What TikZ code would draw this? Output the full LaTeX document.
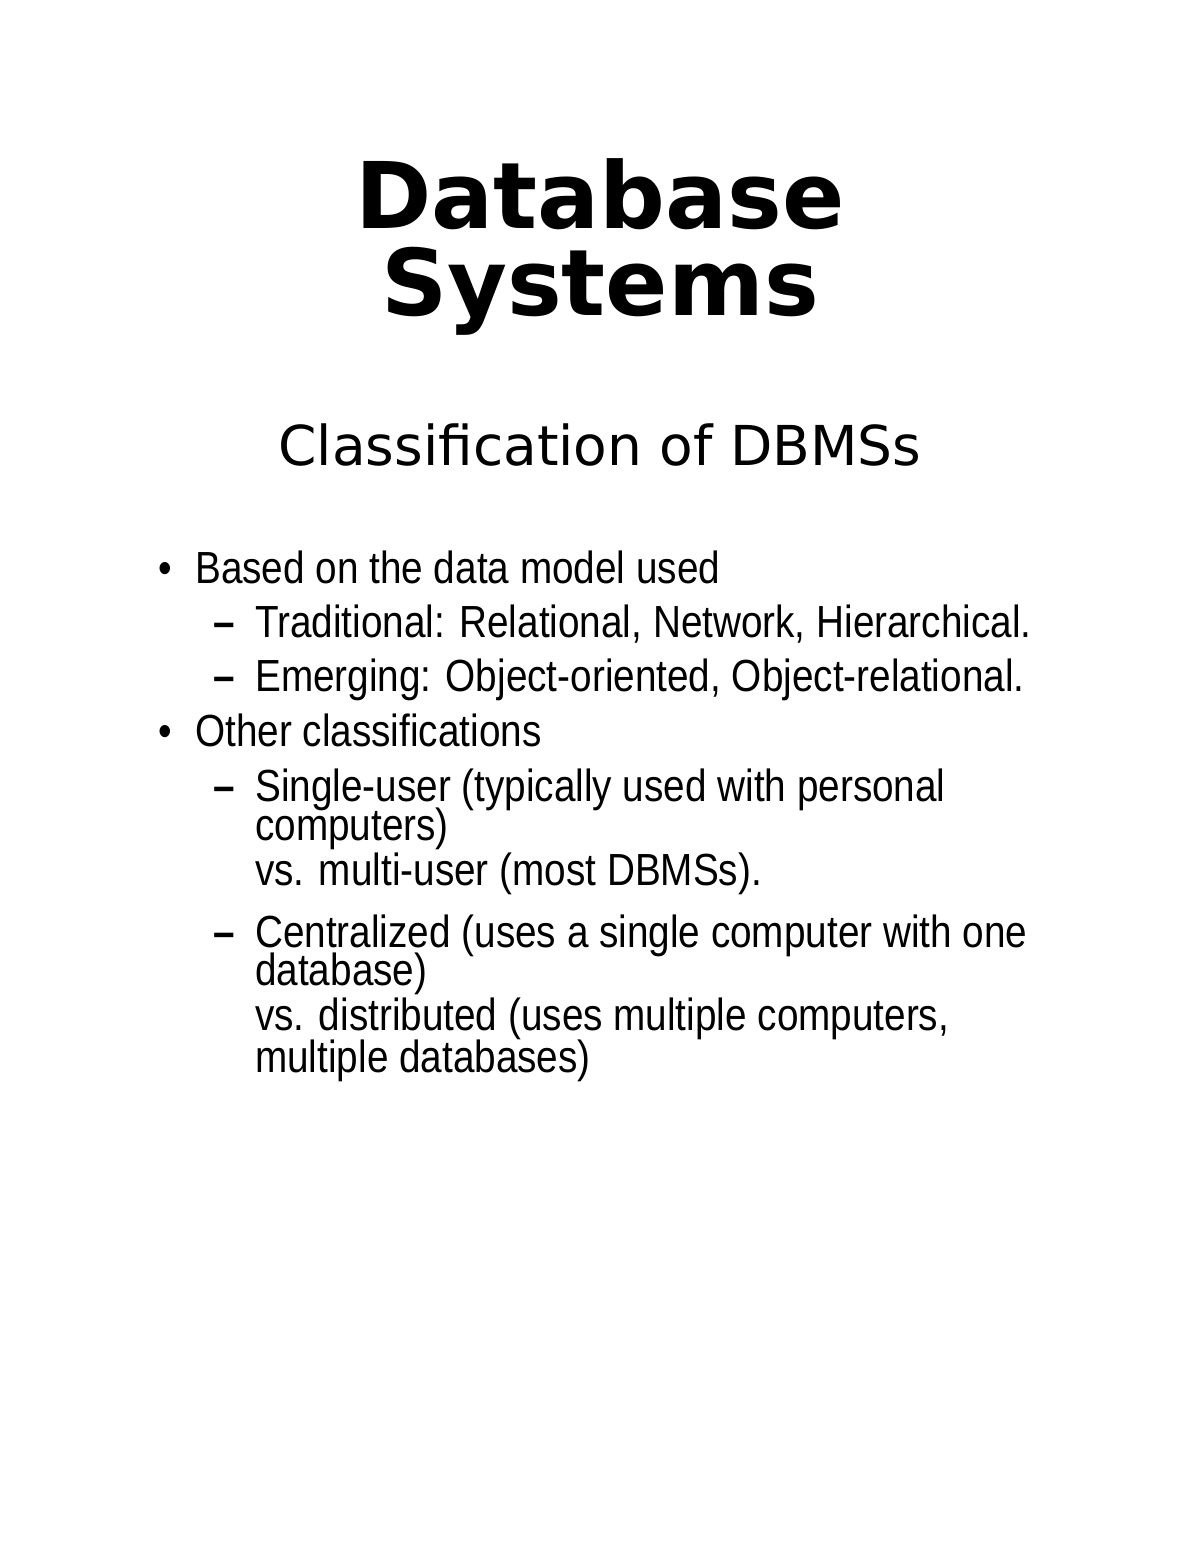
\documentclass[tikz,border=0pt]{standalone}
\usepackage{fontspec}
\setmainfont{Liberation Sans}[FakeStretch=0.86]
\newfontfamily\ttl{DejaVu Sans}
\begin{document}
\begin{tikzpicture}[x=1pt,y=-1pt,
  body/.style={anchor=base west,inner sep=0pt,font=\fontsize{45}{54}\selectfont},
  bul/.style={anchor=base west,inner sep=0pt,font=\fontsize{45}{54}\selectfont}]
\useasboundingbox[fill=white] (0,0) rectangle (1200,1553);
\node[anchor=base,inner sep=0pt,font=\ttl\bfseries\fontsize{92}{100}\selectfont] (t1) at (600,228) {Database};
\node[anchor=base,inner sep=0pt,font=\ttl\bfseries\fontsize{92}{100}\selectfont] (t2) at (600,315) {Systems};
\node[anchor=base,inner sep=0pt,font=\ttl\fontsize{55}{60}\selectfont] (st) at (600,465) {Classification of DBMSs};
\node[bul] (b1) at (158,583) {\textbullet};
\node[body] (l1) at (195,583) {Based on the data model used};
\node[bul] (d1) at (213,637) {\textbf{--}};
\node[body] (l2) at (255,637) {Traditional: Relational, Network, Hierarchical.};
\node[bul] (d2) at (213,691) {\textbf{--}};
\node[body] (l3) at (255,691) {Emerging: Object-oriented, Object-relational.};
\node[bul] (b2) at (158,746) {\textbullet};
\node[body] (l4) at (195,746) {Other classifications};
\node[bul] (d3) at (213,801) {\textbf{--}};
\node[body] (l5) at (255,801) {Single-user (typically used with personal};
\node[body] (l6) at (255,840) {computers)};
\node[body] (l7) at (255,885) {vs. multi-user (most DBMSs).};
\node[bul] (d4) at (213,947) {\textbf{--}};
\node[body] (l8) at (255,947) {Centralized (uses a single computer with one};
\node[body] (l9) at (255,985) {database)};
\node[body] (l10) at (255,1030) {vs. distributed (uses multiple computers,};
\node[body] (l11) at (255,1072) {multiple databases)};
\end{tikzpicture}
\end{document}
